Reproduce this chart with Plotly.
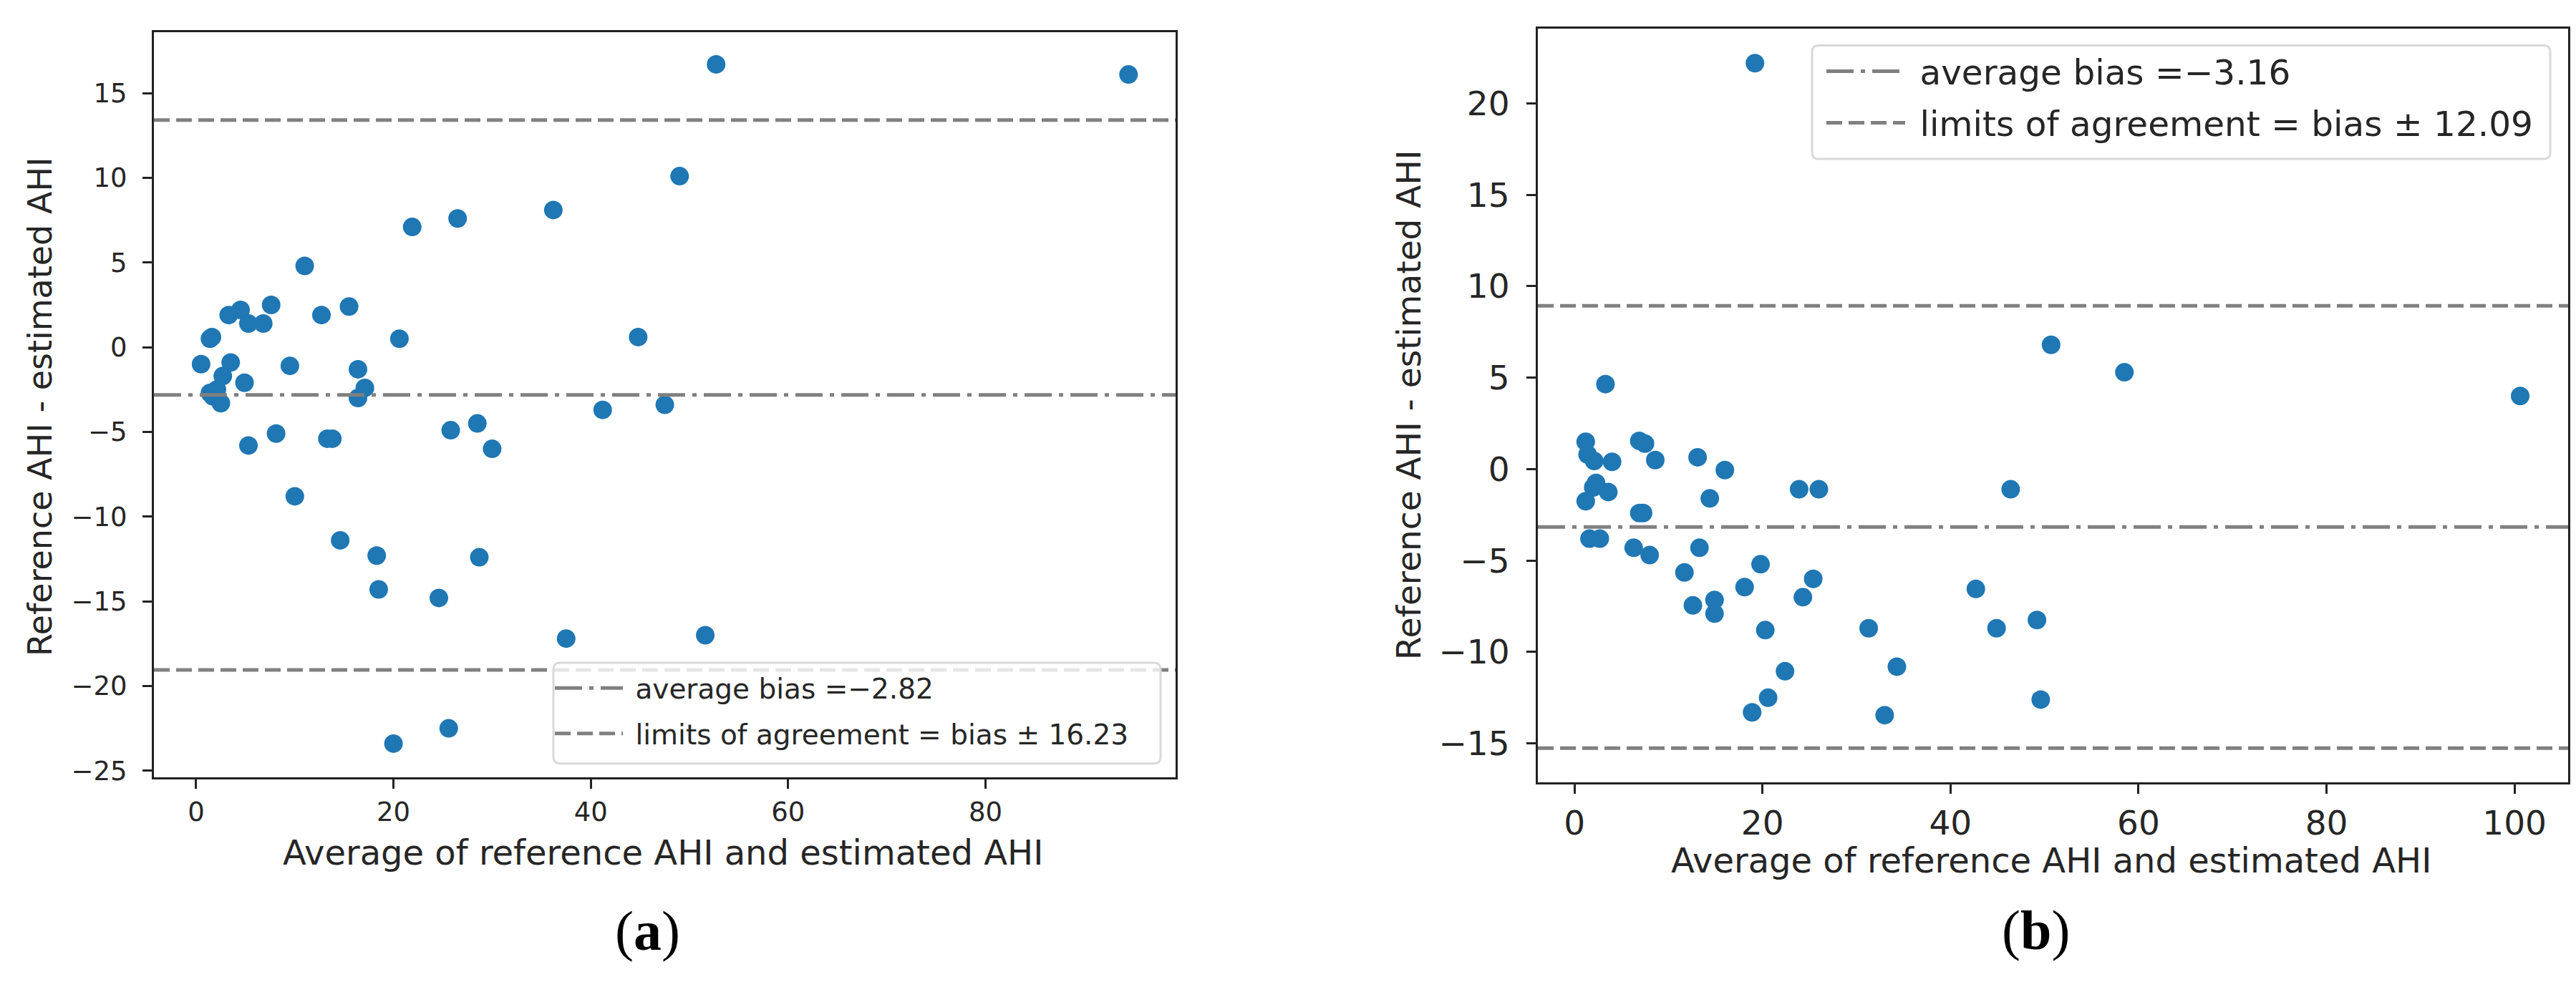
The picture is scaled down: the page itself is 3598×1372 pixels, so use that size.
import plotly.graph_objects as go

# ---------------- data ----------------
# Panel (a)
a_mean = [0.5, 1.4, 1.6, 3.3, 4.5, 5.3, 6.8, 7.6, 11.0, 12.7, 15.5, 20.6, 21.9, 26.5, 36.2,
          49.0, 52.7, 94.5, 44.8, 3.5, 2.7, 2.1, 1.7, 2.5, 1.4, 4.9, 9.5, 16.4, 17.1, 16.4,
          41.2, 47.5, 5.3, 8.1, 13.3, 13.8, 25.8, 28.5, 30.0, 10.0, 14.6, 18.3, 28.7, 18.5,
          24.6, 37.5, 51.6, 20.0, 25.6]
a_diff = [-1.0, 0.5, 0.6, 1.9, 2.2, 1.4, 1.4, 2.5, 4.8, 1.9, 2.4, 0.5, 7.1, 7.6, 8.1,
          10.1, 16.7, 16.1, 0.6, -0.9, -1.7, -2.5, -2.9, -3.3, -2.7, -2.1, -1.1, -1.3, -2.4, -3.0,
          -3.7, -3.4, -5.8, -5.1, -5.4, -5.4, -4.9, -4.5, -6.0, -8.8, -11.4, -12.3, -12.4, -14.3,
          -14.8, -17.2, -17.0, -23.4, -22.5]
a_bias = -2.82
a_loa = 16.23

# Panel (b)
b_mean = [19.2, 3.3, 50.7, 58.5, 100.6, 1.2, 1.4, 2.1, 4.0, 6.9, 7.5, 8.6, 13.1, 16.0, 23.9,
          26.0, 46.4, 14.4, 2.3, 2.0, 3.6, 1.2, 6.9, 7.3, 1.6, 2.7, 6.3, 8.0, 13.3, 11.7,
          19.8, 25.4, 18.1, 24.3, 12.6, 14.9, 14.9, 20.3, 31.3, 42.7, 44.9, 49.2, 34.3, 22.4,
          20.6, 18.9, 33.0, 49.6]
b_diff = [22.2, 4.65, 6.8, 5.3, 4.0, 1.5, 0.8, 0.45, 0.4, 1.55, 1.4, 0.5, 0.65, -0.05, -1.1,
          -1.1, -1.1, -1.6, -0.75, -1.0, -1.25, -1.75, -2.4, -2.4, -3.8, -3.8, -4.3, -4.7, -4.3, -5.65,
          -5.2, -6.0, -6.45, -7.0, -7.45, -7.15, -7.9, -8.8, -8.7, -6.55, -8.7, -8.25, -10.8, -11.05,
          -12.5, -13.3, -13.45, -12.6]
b_bias = -3.16
b_loa = 12.09

a_xticks = [0, 20, 40, 60, 80]
a_yticks = [-25, -20, -15, -10, -5, 0, 5, 10, 15]
b_xticks = [0, 20, 40, 60, 80, 100]
b_yticks = [-15, -10, -5, 0, 5, 10, 15, 20]

xlabel = "Average of reference AHI and estimated AHI"
ylabel = "Reference AHI - estimated AHI"

# ---------------- style ----------------
W, H = 3598, 1372
BLUE = "#1f77b4"
GRAY = "#808080"
TXT = "#262626"
FONT = "DejaVu Sans"
DASH = "22px,9px"
DASHDOT = "38px,10px,6px,10px"
LW = 5
NB = "\u00a0"


def px_x(p):
    return p / W


def px_y(p):
    return 1 - p / H


# axes boxes (pixels): left, right, top, bottom
A_BOX = (207, 1634, 37, 1088)
B_BOX = (2140, 3579, 32, 1095)
# legend frames (pixels): left, right, top, bottom
A_LEG = (765, 1613, 926, 1068)
B_LEG = (2523, 3554, 56, 216)

fig = go.Figure()

fig.add_trace(go.Scatter(x=a_mean, y=a_diff, mode="markers", xaxis="x", yaxis="y",
                         marker=dict(color=BLUE, size=26, line=dict(width=0)),
                         showlegend=False))
fig.add_trace(go.Scatter(x=b_mean, y=b_diff, mode="markers", xaxis="x2", yaxis="y2",
                         marker=dict(color=BLUE, size=26, line=dict(width=0)),
                         showlegend=False))

# legend-only entries
fig.add_trace(go.Scatter(x=[None], y=[None], mode="lines", xaxis="x", yaxis="y",
                         line=dict(color=GRAY, width=LW, dash=DASHDOT), legendgroup="a1",
                         name=f"{NB}average bias =\u2212{abs(a_bias):.2f}", legend="legend"))
fig.add_trace(go.Scatter(x=[None], y=[None], mode="lines", xaxis="x", yaxis="y",
                         line=dict(color=GRAY, width=LW, dash=DASH), legendgroup="a2",
                         name=f"{NB}limits of agreement = bias \u00b1 {a_loa:.2f}", legend="legend"))
fig.add_trace(go.Scatter(x=[None], y=[None], mode="lines", xaxis="x2", yaxis="y2",
                         line=dict(color=GRAY, width=LW, dash=DASHDOT), legendgroup="b1",
                         name=f"{NB}average bias =\u2212{abs(b_bias):.2f}", legend="legend2"))
fig.add_trace(go.Scatter(x=[None], y=[None], mode="lines", xaxis="x2", yaxis="y2",
                         line=dict(color=GRAY, width=LW, dash=DASH), legendgroup="b2",
                         name=f"{NB}limits of agreement = bias \u00b1 {b_loa:.2f}", legend="legend2"))

# reference lines
shapes = []
for xr, yr, bias, loa in [("x", "y", a_bias, a_loa), ("x2", "y2", b_bias, b_loa)]:
    for val, dash in [(bias, DASHDOT), (bias + loa, DASH), (bias - loa, DASH)]:
        shapes.append(dict(type="line", xref=f"{xr} domain", yref=yr, x0=0, x1=1,
                           y0=val, y1=val, layer="above",
                           line=dict(color=GRAY, width=LW, dash=dash)))


def rounded_box(box, r=9):
    l, rr, t, b = box
    x0, x1 = px_x(l), px_x(rr)
    y0, y1 = px_y(b), px_y(t)
    dx, dy = r / W, r / H
    path = (f"M{x0 + dx},{y1} L{x1 - dx},{y1} Q{x1},{y1} {x1},{y1 - dy} "
            f"L{x1},{y0 + dy} Q{x1},{y0} {x1 - dx},{y0} "
            f"L{x0 + dx},{y0} Q{x0},{y0} {x0},{y0 + dy} "
            f"L{x0},{y1 - dy} Q{x0},{y1} {x0 + dx},{y1} Z")
    return dict(type="path", xref="paper", yref="paper", path=path, layer="above",
                fillcolor="rgba(255,255,255,0.8)", line=dict(color="#d9d9d9", width=3))


shapes.append(rounded_box(A_LEG))
shapes.append(rounded_box(B_LEG))


def axis(domain, rng, ticks, size, anchor, standoff=None):
    d = dict(domain=domain, range=rng, tickvals=ticks, anchor=anchor,
             showgrid=False, zeroline=False, showline=True, mirror=True,
             linecolor="#222222", linewidth=3, ticks="outside", ticklen=13,
             tickwidth=3, tickcolor="#222222",
             tickfont=dict(family=FONT, size=size, color=TXT))
    if standoff is not None:
        d["ticklabelstandoff"] = standoff
    return d


def ann(text, x, y, size, angle=0, family=FONT, color=TXT):
    return dict(text=text, x=px_x(x), y=px_y(y), xref="paper", yref="paper",
                xanchor="center", yanchor="middle", textangle=angle, showarrow=False,
                font=dict(family=family, size=size, color=color))


annotations = [
    ann(xlabel, 918, 1193, 48),
    ann(ylabel, 48, 565, 46, angle=-90),
    ann(xlabel, 2857, 1205, 48),
    ann(ylabel, 1959, 562, 47, angle=-90),
    ann("(<b>a</b>)", 896, 1304, 78, family="Liberation Serif", color="#000000"),
    ann("(<b>b</b>)", 2835, 1303, 78, family="Liberation Serif", color="#000000"),
]

fig.update_layout(
    width=W, height=H,
    margin=dict(l=0, r=0, t=0, b=0),
    paper_bgcolor="white", plot_bgcolor="white",
    xaxis=axis([px_x(A_BOX[0]), px_x(A_BOX[1])], [-4.28, 99.27], a_xticks, 37, "y"),
    yaxis=axis([px_y(A_BOX[3]), px_y(A_BOX[2])], [-25.41, 18.61], a_yticks, 37, "x", 14),
    xaxis2=axis([px_x(B_BOX[0]), px_x(B_BOX[1])], [-3.89, 105.7], b_xticks, 47, "y2"),
    yaxis2=axis([px_y(B_BOX[3]), px_y(B_BOX[2])], [-17.14, 24.1], b_yticks, 47, "x2", 14),
    shapes=shapes,
    annotations=annotations,
    legend=dict(x=px_x(762), y=px_y(994), xanchor="left", yanchor="middle",
                bgcolor="rgba(0,0,0,0)", borderwidth=0,
                font=dict(family=FONT, size=39, color=TXT), itemwidth=95,
                traceorder="grouped", tracegroupgap=10),
    legend2=dict(x=px_x(2538), y=px_y(129), xanchor="left", yanchor="middle",
                 bgcolor="rgba(0,0,0,0)", borderwidth=0,
                 font=dict(family=FONT, size=48.5, color=TXT), itemwidth=110,
                 traceorder="grouped", tracegroupgap=6),
)

fig.write_html("out.html")
